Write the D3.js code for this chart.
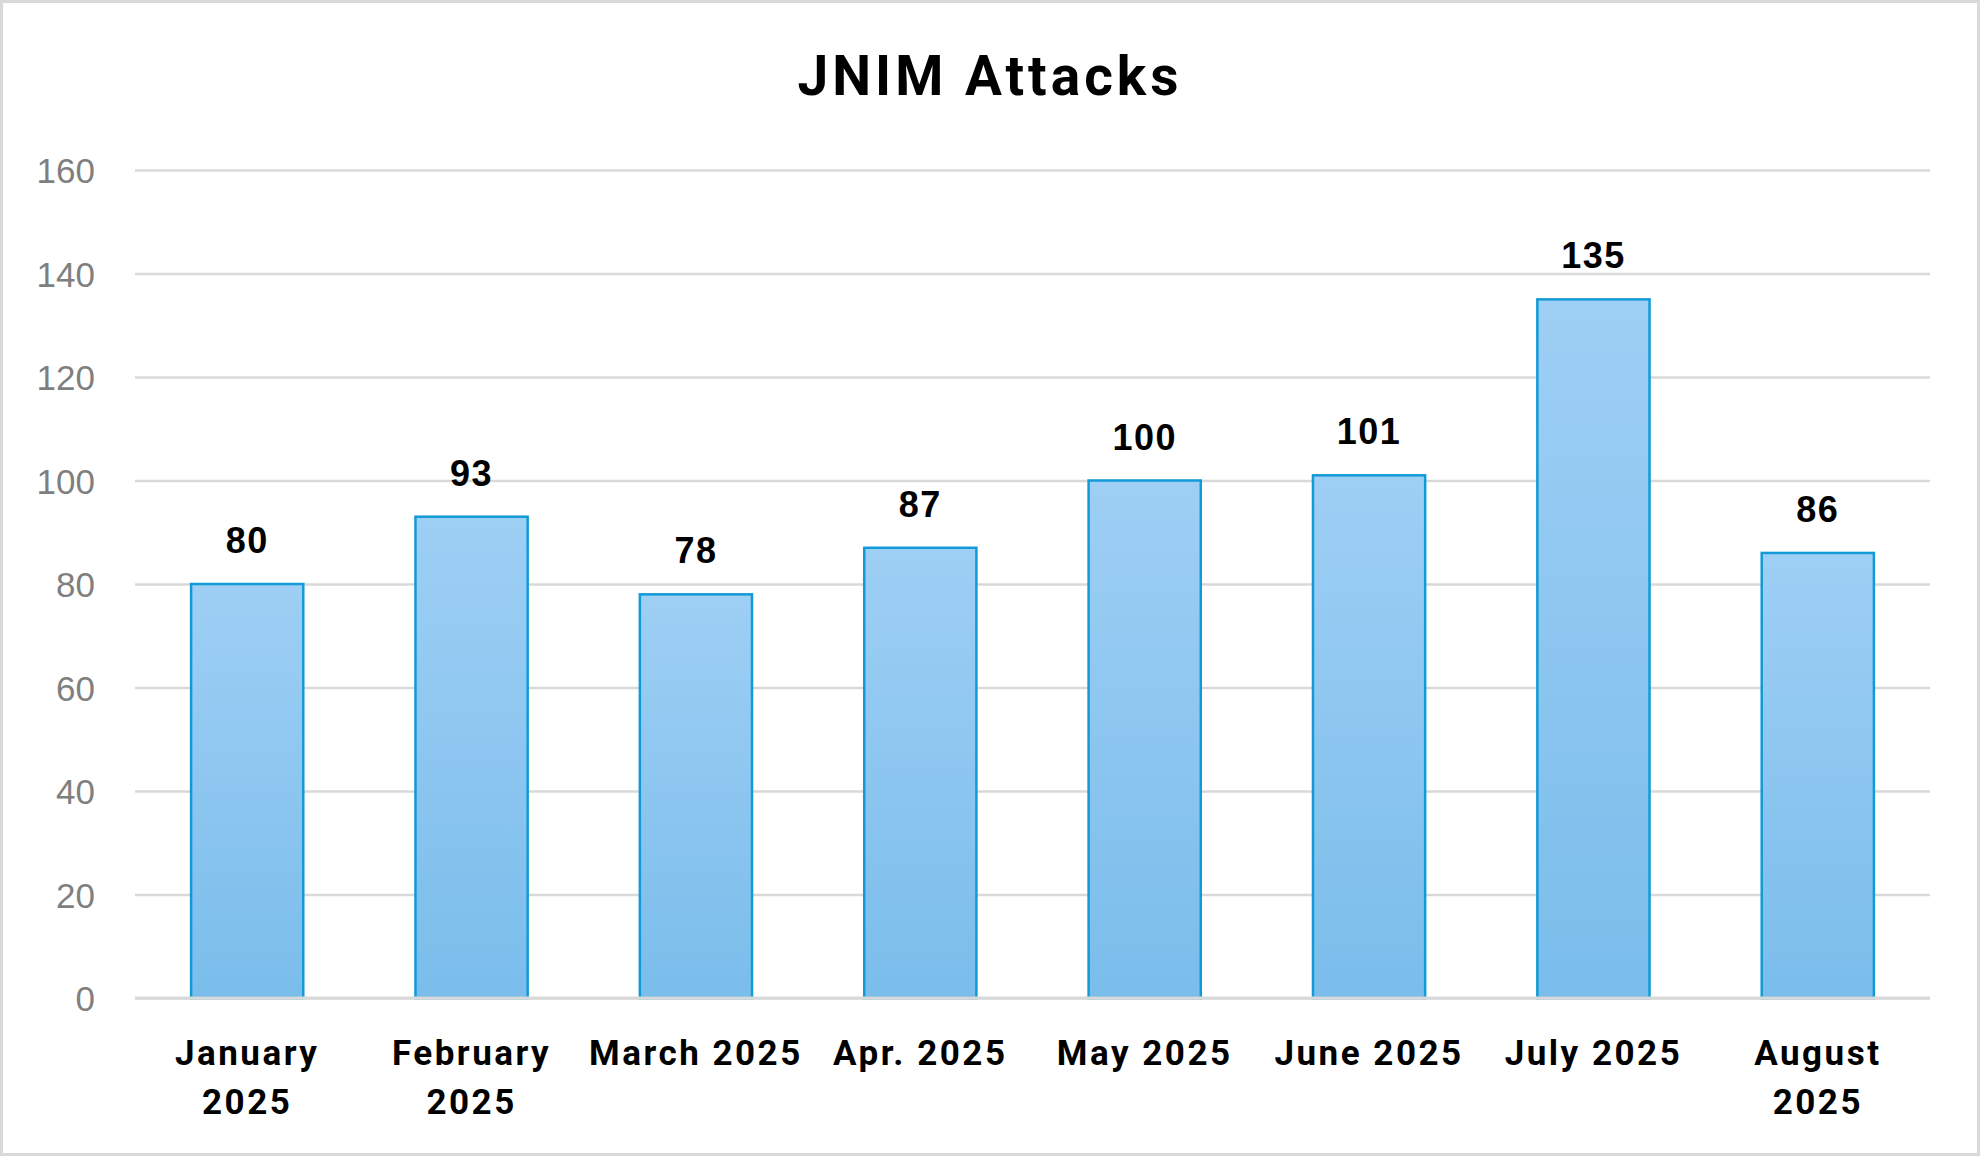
<!DOCTYPE html>
<html>
<head>
<meta charset="utf-8">
<script src="https://cdn.jsdelivr.net/npm/d3@7"></script>
<style>
  body { margin: 0; background: #fff; }
  .label { font-family: Roboto, "Liberation Sans", sans-serif; font-weight: 700; fill: #000; }
  .tick text { font-family: "Liberation Sans", Arial, sans-serif; }
</style>
</head>
<body>
<div id="chart"></div>
<script>
// values
var months = ["January 2025", "February 2025", "March 2025", "Apr. 2025",
  "May 2025", "June 2025", "July 2025", "August 2025"];
var attacks = [80, 93, 78, 87, 100, 101, 135, 86];
var yTicks = [0, 20, 40, 60, 80, 100, 120, 140, 160];

var W = 1982, H = 1157;
var margin = { top: 170, right: 52, bottom: 159, left: 135 },
  width = W - margin.left - margin.right,
  height = H - margin.top - margin.bottom;

var root = d3.select("#chart").append("svg")
  .attr("width", W)
  .attr("height", H);

// outer frame
root.append("rect")
  .attr("x", 1.5).attr("y", 1.5)
  .attr("width", W - 5).attr("height", H - 4)
  .attr("fill", "#fff")
  .attr("stroke", "#d9d9d9")
  .attr("stroke-width", 3);

var defs = root.append("defs");
var grad = defs.append("linearGradient")
  .attr("id", "barFill")
  .attr("x1", 0).attr("y1", 0).attr("x2", 0).attr("y2", 1);
grad.append("stop").attr("offset", "0%").attr("stop-color", "#9ecff5");
grad.append("stop").attr("offset", "100%").attr("stop-color", "#7abdeb");

// title
root.append("text")
  .attr("class", "label")
  .attr("x", 990)
  .attr("y", 95)
  .attr("text-anchor", "middle")
  .style("font-size", "55px")
  .style("letter-spacing", "4px")
  .text("JNIM Attacks");

var svg = root.append("g")
  .attr("transform", "translate(" + margin.left + "," + margin.top + ")");

var x = d3.scaleBand()
  .domain(months)
  .range([0, width])
  .paddingInner(0.5)
  .paddingOuter(0.25);

var y = d3.scaleLinear()
  .domain([0, 160])
  .range([height, 0]);

// gridlines + y labels
var yAxis = svg.append("g")
  .call(d3.axisLeft(y).tickValues(yTicks).tickSize(-width).tickPadding(40));
yAxis.select(".domain").remove();
yAxis.selectAll(".tick line")
  .attr("stroke", "#d9d9d9")
  .attr("stroke-width", 2.5);
yAxis.selectAll(".tick text")
  .attr("fill", "#7f7f7f")
  .style("font-size", "35px")
  .attr("dy", "0.36em");

// bars
svg.selectAll(".bar")
  .data(attacks)
  .enter()
  .append("rect")
  .attr("class", "bar")
  .attr("x", function (d, i) { return x(months[i]); })
  .attr("y", function (d) { return y(d); })
  .attr("width", x.bandwidth())
  .attr("height", function (d) { return height - y(d); })
  .attr("fill", "url(#barFill)")
  .attr("stroke", "#129ad6")
  .attr("stroke-width", 2.5);

// baseline
svg.append("line")
  .attr("x1", 0).attr("x2", width)
  .attr("y1", y(0)).attr("y2", y(0))
  .attr("stroke", "#d9d9d9")
  .attr("stroke-width", 3);

// value labels
svg.selectAll(".value")
  .data(attacks)
  .enter()
  .append("text")
  .attr("class", "value")
  .attr("x", function (d, i) { return x(months[i]) + x.bandwidth() / 2; })
  .attr("y", function (d) { return y(d) - 31; })
  .attr("text-anchor", "middle")
  .style("font-family", "'Liberation Sans', Arial, sans-serif")
  .style("font-weight", "700")
  .style("font-size", "36px")
  .style("letter-spacing", "1.5px")
  .text(function (d) { return d; });

// category labels, wrapped when wider than a band step
var step = x.step();
var xl = svg.selectAll(".cat")
  .data(months)
  .enter()
  .append("text")
  .attr("class", "label cat")
  .attr("text-anchor", "middle")
  .attr("x", function (d) { return x(d) + x.bandwidth() / 2; })
  .attr("y", height + 67)
  .style("font-size", "35px")
  .style("letter-spacing", "2.5px");

xl.each(function (d) {
  var t = d3.select(this);
  t.text(d);
  if (this.getComputedTextLength() > step - 4) {
    var words = d.split(" ");
    var last = words.pop();
    t.text(null);
    t.append("tspan").attr("x", t.attr("x")).text(words.join(" "));
    t.append("tspan").attr("x", t.attr("x")).attr("dy", 49).text(last);
  }
});
</script>
</body>
</html>
